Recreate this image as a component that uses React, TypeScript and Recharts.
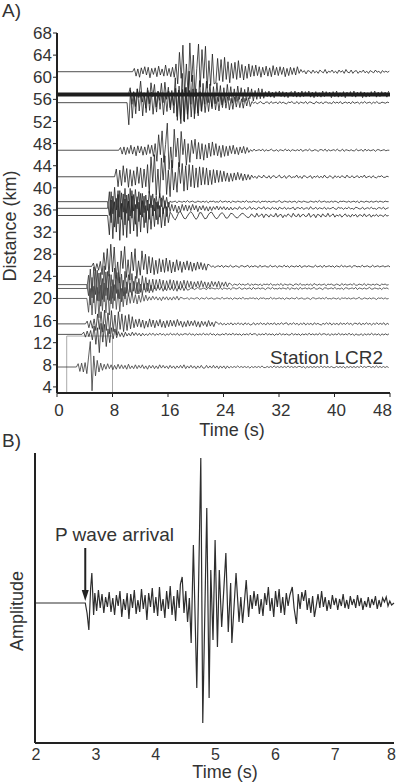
import React from "react";
import {
  LineChart,
  Line,
  XAxis,
  YAxis,
  ReferenceLine,
  ReferenceArea,
  ReferenceDot,
} from "recharts";

const FONT = '"Liberation Sans", Arial, Helvetica, sans-serif';
const INK = "#333";
const FRAME = "#222";

// ---------- Panel A: record section ----------
const distTicks = [4, 8, 12, 16, 20, 24, 28, 32, 36, 40, 44, 48, 52, 56, 60, 64, 68];
const timeTicksA = [0, 8, 16, 24, 32, 40, 48];
const sampleStep = 0.25; // s between amplitude samples

const traceDistances = [61.0, 56.9, 55.4, 46.8, 42.0, 37.5, 36.3, 35.0, 25.8, 22.5, 21.8, 20.0, 15.4, 13.5, 7.6];
const traceOnsets = [10.9, 10.3, 10.1, 8.9, 8.3, 7.3, 7.3, 7.3, 5.0, 4.3, 4.3, 4.3, 4.1, 3.6, 2.8];

// amplitudes in 0.1 km, sampled every sampleStep seconds from the onset
const amp610 = [
  0, 6, -8, 5, -10, 7, -4, 9, -6, 8, -11, 6, -5, 7, -9, 10, -6, 5, -8, 12, -7, 6, -9, 8, -10, 14,
  -22, 35, -12, 48, -38, 14, -42, 52, -18, 30, -45, 6, 50, -28, 40, -12, 46, -30, 20, -25, 32, -22,
  -20, 24, -16, 22, -18, 26, -14, 18, -20, 15, -12, 17, -14, 20, -11, 13, -15, 10, -12, 14,
  -9, 11, -8, 12, -7, 9, -10, 8, -6, 10, -8, 7, -9, 11, -6, 8, -7, 9, -5, 8, -9, 6, -7, 8, -5, 7, -6, 9,
  -3, 4, -1, 2, -4, 2, 1, -3, 3, -2, 1, -3, 3, 0, -2, 4, -3, 1, -1, 3,
  -2, 1, -3, 3, -1, 2, -3, 4, -1, -2, 3, -3, 1, 2, -3, 1, -1, 3, -2, 1,
  -3, 2, 0, -2, 3, -1, 1, -3, 2, -1, 1, -1, 1, 0, 0,
];
const amp569 = [
  0, 12, -18, 5, -22, 10, -6, 24, -14, 3, -25, 12, -17, 21, -4, 18, -23, 6, -11, 20, -15, 22, -9, 13, -24, 7, -20,
  30, -40, 8, -45, 38, -48, 12, -36, 42, -18, 35, -44, 10, -34, 25, -30,
  20, -18, 24, -15, 19, -22, 14, -17, 21, -13, 16, -19, 12, -15, 18, -11, 14, -16, 10, -13, 15, -9, 12, -14, 9, -11, 13, -8, 10, -12, 7, -9, 11, -8, 10, -7,
  5, -4, 6, -5, 4, -6, 5, -3, 6, -4, 5, -5, 4, -6, 3, 5, -4, 6, -5, 4,
  -5, 6, -4, 5, -3, 6, -5, 4, -6, 5, -4, 3, -5, 6, -4, 5, -3, 4, -6, 5,
  -4, 6, -5, 3, -4, 5, -6, 4, -3, 5, -4, 6, -5, 4, -3, 5, -6, 4, -5, 3,
  -4, 5, -3, 6, -5, 4, -4, 5, -3, 4, -5, 6, -4, 3, 0,
];
const amp554 = [
  0, -40, 22, -28, 18, -20, 25, -15, 20, -24, 16, -18, 22, -14, 19, -21, 13, -17, 20, -12, 18, -22, 15, -16, 21, -13, 17, -19,
  26, -32, 30, -38, 24, -35, 28, -30, 22, -26, 25, -20, 18, -24, 20, -16,
  15, -18, 12, -16, 14, -11, 17, -13, 10, -15, 12, -9, 14, -10, 11, -13, 8, -12, 10, -8, 11, -9, 7, -10, 8, -6, 9, -7,
  2, -1, 1, -2, 0, 2, -1, -2, 1, 1, -2, 2, -1, 0, 1, -2, 2, -1, 1, -1,
  -2, 1, 0, 2, -1, -1, 2, -2, 1, 0, -1, 2, -2, 1, 1, -1, -2, 2, 0, -1,
  1, -2, 1, 1, -1, 0, -2, 2, -1, 1, -1, 2, -2, 0, 1, -1, 1, -2, 2, -1,
  0, 1, -2, 1, -1, 2, -1, 0, 1, -2, 1, -1, 2, -1, -1, 1, 0, -1, 1, 0, 1, 0,
];
const amp468 = [
  0, 5, -7, 6, -8, 5, -6, 9, -7, 6, -10, 8, -5, 7, -9, 6, -8, 10, -6, 9, -11, 12,
  -20, 28, -8, 35, -22, 10, 49, -35, 6, -32, 38, -12, 22, -30, 34, -8, 20, -27, 12, -22, 18, -6, 20, -16,
  14, -16, 12, -18, 10, -14, 13, -11, 15, -9, 12, -10, 8, -13, 9, -11, 7, -10, 8, -6, 9, -7, 5, -8, 6, -5, 7, -6, 5, -4,
  1, -2, 2, -1, 0, 1, -1, 2, -2, 1, -1, 0, 2, -1, -1, 1, -2, 1, 0, -1,
  2, -1, 1, -2, 1, 0, -1, 1, -1, 2, -2, 0, 1, -1, 2, -1, -1, 1, 0, -2,
  1, 1, -1, 2, -2, 1, -1, 0, 1, -1, 2, -1, -1, 2, -2, 1, 0, -1, 1, -1,
  -1, 2, -1, 0, 1, -2, 2, -1, 1, -1, 0, 1, -2, 1, 1, -1, 0, 1, -1, 0, 0, 0,
];
const amp420 = [
  0, 14, -18, 12, -16, 20, -10, 15, -19, 13, -17, 11, -15, 18, -12, 16, -20, 14, -18, 22,
  -30, 36, -10, 40, -34, 14, -38, 34, -6, 38, -32, 12, -36, 30, -24, 8, -28, 26, -12,
  24, -26, 20, -24, 22, -18, 21, -20, 16, -19, 18, -15, 17, -14, 16, -15, 12, -14, 13, -11, 12, -10, 11, -9, 10, -8,
  7, -9, 6, -8, 7, -6, 8, -5, 6, -7, 5, -6, 4, -5,
  3, -2, 1, -3, 2, 0, -2, 3, -1, -2, 2, -3, 1, 2, -2, 0, 3, -2, -1, 2,
  -3, 1, 2, -2, 0, -1, 3, -2, 1, -3, 2, 1, -2, 0, 2, -3, 1, -1, 2, -2,
  1, -2, 3, -1, -2, 2, 0, -3, 2, -1, 1, -2, 2, 0, -2, 3, -1, -1, 2, -2,
  0, 2, -2, 1, -1, 3, -2, 0, 1, -2, 2, -1, -2, 1, 0, 2, -1, -1, 1, 0, 0,
];
const amp375 = [
  0, -25, 18, -22, 26, -15, 20, -28, 16, -19, 24, -21, 14, -26, 20, -17, 22, -13, 18, -24, 15, -20, 12, -16, 19, -11, 14, -17, 10, -13, 15, -9, 11, -12, 8, -10,
  1, -1, 0, 1, -2, 1, 0, -1, 1, -1, 2, -1, 0, 1, -1, -1, 1, 0, -1, 1,
  -1, 1, -2, 1, 0, 1, -1, 0, -1, 2, -1, 0, 1, -1, 1, -2, 1, 0, -1, 1,
  0, -1, 1, -1, 2, -1, 0, -1, 1, 0, -1, 1, -2, 1, 0, 1, -1, 1, -1, 0,
  1, -1, 0, 2, -1, -1, 1, 0, -1, 1, -1, 0, 1, -2, 1, 0, -1, 1, 0, -1,
  -1, 1, 0, -1, 1, -1, 2, -1, 0, 1, -1, 0, -1, 1, -1, 1, 0, -2, 1, 0,
  1, 0, -1, 1, -1, 0, 1, -1, 1, -2, 1, 0, -1, 1, 0, -1, 1, -1, 0, 1,
  -1, 1, 0, -1, 1, 0, 0, 0, 0,
];
const amp363 = [
  0, 30, -26, 22, -34, 18, -28, 32, -20, 26, -30, 24, -22, 36, -18, 25, -29, 21, -24, 27, -16, 22, -26, 15, -20, 23, -14, 18, -21, 12, -16, 19, -10, 14, -15, 11,
  -6, 7, -5, 6, -8, 4, -6, 7, -4, 6, -5, 5, -4, 7, -3, 5, -6, 4, -3, 5, -4, 3, -5, 3, -4, 3, -2, 4, -3, 3, -2, 3, -3, 2, -3,
  2, -3, 1, 0, -2, 3, -1, -1, 2, -2, 0, 3, -2, 1, -1, -2, 2, 0, -1, 3,
  -2, 1, 0, -2, 2, -1, 1, -3, 2, 0, -1, 2, -2, 1, -1, 0, 2, -3, 1, 1,
  -1, 2, -2, 0, 1, -2, 3, -1, -1, 2, -2, 1, 0, -1, 2, -2, 1, -1, 0, 2,
  -1, -2, 2, 0, 1, -2, 1, -1, 2, -1, 0, -2, 2, 1, -1, -1, 2, -2, 0, 1,
  -1, 2, -1, 0, -2, 1, 1, -1, 2, -2, 0, 1, 0,
];
const amp350 = [
  0, -35, 28, -42, 25, -30, 38, -45, 22, -36, 30, -40, 26, -33, 35, -28, 20, -38, 24, -30, 27, -22, 18, -32, 21, -25, 19, -20, 24, -16, 18, -22, 14, -19, 16, -13,
  6, 2, -5, -8, -2, 6, 7, 1, -5, -6, -1, 4, 7, 3, -3, -7, -3, 5, 5, -1, -6, -5, 1, 5, 6, 1, -4, -6, -2, 3, 5, 2, -4, -5, -1, 4, 3, 0, -4, -4, -1, 3, 4, 1, -2, -4, -2,
  3, -1, -3, 4, -2, 0, 3, -4, 2, 1, -3, 2, -1, -2, 4, -3, 1, 2, -4, 1,
  -2, 3, 0, -3, 4, -1, -2, 3, -3, 1, 2, -2, -1, 4, -3, 0, 2, -4, 2, 1,
  -3, 3, -1, -2, 4, -2, 0, 3, -3, 1, -1, 2, -3, 0, 3, -2, 1, -3, 2, -1,
  2, -3, 1, 1, -2, 3, -2, 0, 2, -3, 1, -1, 2, -2, 1, 0, -2, 2, -1, 0, 0,
];
const amp258 = [
  0, 6, -8, 5, -7, 9,
  -15, 25, -6, 32, -18, 40, -10, 35, -22, 8, -30, 28, -4, 36, -20, 12, -25, 26, -8, 32, -22, 10, -16, 28, -6, 22,
  -14, 18, -12, 16, -15, 11, -13, 14, -10, 12, -11, 15, -9, 11, -12, 8, -10, 12, -7, 9, -11, 8, -6, 10, -7, 8, -9, 6, -7, 8, -5, 7, -6, 5, -7, 4,
  2, -1, 1, -2, 0, 1, -1, 2, -2, 1, 0, -1, 2, -1, -1, 1, 0, -2, 1, 1,
  -1, 0, 2, -2, 1, -1, 1, 0, -2, 2, -1, 0, 1, -1, -1, 2, -1, 0, 1, -2,
  1, 0, -1, 2, -1, 1, -2, 1, 0, -1, 1, -1, 2, -2, 0, 1, -1, 1, 0, -1,
  -1, 2, -1, 0, 1, -2, 2, -1, 0, 1, -1, 1, -2, 1, 0, -1, 2, -1, 1, -1,
  0, 1, -2, 1, 1, -1, 0, -1, 2, -1, 0, 1, -1, -1, 2, -1, 0, 1, -1, 0,
  1, -1, 0, 1, -1, 0, 0,
];
const amp225 = [
  0, -20, 28, -24, 32, -18, 26, -30, 22, -27, 34, -20, 24, -29, 18, -25, 30, -16, 22, -26, 19, -21, 24,
  -16, 18, -14, 20, -12, 15, -17, 11, -14, 16, -10, 13, -12, 9, -11, 10,
  -8, 9, -7, 10, -6, 8, -9, 7, -5, 9, -7, 8, -6, 7, -8, 6, -5, 8, -6, 7, -5, 6, -7, 5, -4, 6, -5, 7, -4, 5, -6, 4, -5, 6, -3, 5, -4, 6, -5, 4, -3, 5, -4, 3,
  1, -2, 1, 0, -1, 2, -1, 1, -1, 0, 2, -2, 1, -1, 1, 0, -1, 1, -2, 1,
  0, 1, -1, 2, -1, 0, -1, 1, -1, 2, -2, 1, 0, -1, 1, 0, -2, 1, 1, -1,
  2, -1, 0, -1, 1, -1, 1, -2, 2, 0, -1, 1, -1, 0, 1, -2, 1, 0, 1, -1,
  -1, 1, 0, -2, 2, -1, 1, -1, 0, 1, -1, 2, -1, -1, 1, 0, -1, 2, -2, 1,
  0, -1, 1, -1, 1, 0, -2, 1, 0, 1, -1, 0, 0,
];
const amp218 = [
  0, 24, -30, 20, -26, 35, -22, 28, -32, 18, -24, 30, -20, 26, -28, 16, -22, 25, -18, 20, -24, 15, -19,
  12, -14, 10, -12, 13, -9, 11, -10, 8, -11, 9, -7, 10, -8, 6, -7,
  5, -4, 6, -3, 4, -5, 3, -4, 5, -3, 4, -4, 3, -5, 4, -3, 5, -4, 3, -3,
  -2, 1, 1, -2, 0, 2, -1, -1, 1, 0, -2, 2, -1, 1, 0, -1, 1, -1, 2, -2,
  1, 0, -1, 1, -2, 1, 1, -1, 0, 2, -1, -1, 1, -1, 0, 1, -2, 2, -1, 0,
  1, -1, 1, 0, -2, 1, 1, -1, 2, -1, 0, -1, 1, -1, 1, 0, -1, 2, -2, 1,
  0, -1, 1, -2, 2, -1, 0, 1, -1, 1, -1, 0, 2, -1, -1, 1, 0, -2, 1, 1,
  -1, 0, 1, -1, 2, -1, 0, -1, 1, -2, 1, 1, -1, 0, 1, -1, 2, -2, 1, 0,
  -1, 1, -1, 0, 2, -1, -1, 1, 0, -1, 1, -2, 1, 0, 1, -1, 0,
];
const amp200 = [
  0, -25, 18, -30, 22, -28, 20, -35, 24, -22, 28, -26, 19, -30, 22, -18, 25, -20, 16, -24, 18, -15, 20,
  -12, 10, -9, 11, -8, 7, -10, 6, -7, 8, -5, 6,
  -4, 3, -3, 4, -2, 3, -3, 2, -4, 3, -2, 3, -3, 2, -3, 3, -2, 4, -3, 2,
  1, -1, 0, 1, -2, 1, 0, -1, 1, 1, -2, 1, 0, -1, 2, -1, 0, 1, -1, -1,
  1, 0, -1, 2, -1, 0, 1, -1, 1, -2, 1, 0, -1, 1, -1, 2, -1, 0, -1, 1,
  0, 1, -1, 1, -2, 1, 0, 1, -1, 0, -1, 2, -1, 1, -1, 0, 1, -1, 1, -2,
  1, 0, -1, 1, 0, -1, 2, -1, 0, 1, -1, -1, 1, 0, -2, 1, 1, -1, 0, 1,
  -1, 1, -1, 2, -1, 0, -1, 1, 0, -1, 1, -2, 1, 0, 1, -1, 1, -1, 0, 1,
  -1, 0, 2, -1, -1, 1, 0, -1, 1, -1, 1, 0, -2, 1, 0, 1, -1, 1, -1, 0,
  1, 0,
];
const amp154 = [
  0, 5, -7, 6, -8, 9,
  -12, 18, -10, 22, -15, 25, -12, 20, -18, 24, -14, 16, -20, 22, -10, 18, -14, 15, -12, 17, -9, 13,
  -7, 8, -5, 9, -6, 7, -8, 5, -6, 9, -5, 7, -7, 6, -4, 8, -6, 5, -7, 6, -5, 7, -4, 6, -5, 8, -3, 5, -6, 4, -5, 6, -4, 5, -3, 6, -5, 4, -6, 5, -3, 4, -5, 6, -4, 3, -5, 4,
  2, -1, 2, -2, 1, -2, 1, -1, 2, -2, 1, -1, 2, -1, 1, -2, 2, -1, 1, -2,
  -1, 2, -2, 1, -1, 2, -1, 1, -2, 2, -1, 1, -1, 2, -2, 1, -1, 2, -1, 1,
  2, -2, 1, -1, 2, -1, 1, -2, 1, -1, 2, -2, 1, -1, 1, -2, 2, -1, 1, -1,
  -2, 1, -1, 2, -1, 2, -2, 1, -1, 1, -2, 2, -1, 1, -1, 2, -1, 1, -2, 1,
  1, -1, 2, -2, 1, -1, 2, -1, 1, -2, 1, -1, 2, -1, 1, -1, 2, -2, 1, -1, 0,
];
const amp135 = [
  0, 4, -5, 6, -4, 7,
  -10, 15, -18, 12, -33, 20, -14, 18, -22, 10, -15, 12, -8, 10,
  -6, 5, -4, 3, -5, 4, -3, 2, -3, 4, -2, 3, -2, 2, -3, 2, -2, 1, -2, 2,
  -1, 2, -2, 1, -1, 2, -1, 1, -2, 1, -1, 2, -1, 1, -1, 2, -2, 1, -1, 1,
  1, -1, 2, -1, 1, -2, 1, -1, 1, -1, 2, -1, 1, -1, 2, -1, 1, -2, 1, -1,
  -1, 1, -1, 2, -1, 1, -1, 2, -1, 1, -1, 1, -2, 1, -1, 1, -1, 2, -1, 1,
  1, -2, 1, -1, 1, -1, 2, -1, 1, -1, 1, -2, 1, -1, 2, -1, 1, -1, 1, -1,
  -1, 2, -1, 1, -1, 1, -2, 1, -1, 1, -1, 2, -1, 1, -1, 1, -1, 2, -1, 1,
  1, -1, 1, -2, 1, -1, 1, -1, 2, -1, 1, -1, 1, -1, 2, -1, 1, -2, 1, -1,
  -1, 1, -2, 1, -1, 1, -1, 2, -1, 1, -1, 1, -2, 1, -1, 1, -1, 1, -1, 0,
];
const amp076 = [
  0, 6, -8, 7, -9, 8,
  -12, 18, 46, -43, 20, -16, 12, -9,
  7, -6, 5, -4, 6, -3, 4, -5, 3, -4, 5, -3, 4, -3, 3, -4, 5, -3, 2, -3,
  4, -3, 3, -2, 4, -3, 2, -4, 3, -2, 3, -3, 2, -3, 4, -2, 3, -2, 2, -3,
  3, -2, 2, -3, 2, -2, 3, -2, 4, -3, 2, -2, 3, -2, 2, -3, 2, -2, 3, -2,
  -2, 3, -2, 2, -2, 3, -2, 2, -3, 2, -2, 2, -3, 2, -2,
  1, -1, 1, -1, 2, -1, 1, -1, 1, -1, 1, -2, 1, -1, 1, -1, 1, -1, 2, -1,
  -1, 1, -1, 1, -1, 2, -1, 1, -1, 1, -1, 1, -1, 2, -1, 1, -1, 1, -1, 1,
  1, -1, 1, -2, 1, -1, 1, -1, 1, -1, 1, -1, 2, -1, 1, -1, 1, -1, 1, -1,
  -1, 1, -1, 1, -1, 1, -2, 1, -1, 1, -1, 1, -1, 1, -1, 2, -1, 1, -1, 1,
  1, -1, 1, -1, 2, -1, 1, -1, 1, -1, 1, -1, 0,
];
const traceAmps = [amp610, amp569, amp554, amp468, amp420, amp375, amp363, amp350, amp258, amp225, amp218, amp200, amp154, amp135, amp076];
const traceColors = ["#222", "#1e1e1e", "#222", "#262626", "#222", "#262626", "#2a2a2a", "#1e1e1e", "#222", "#333", "#3a3a3a", "#444", "#2a2a2a", "#2a2a2a", "#3a3a3a"];

// window shown in panel B
const insetWindow = { t0: 1.4, t1: 8, d0: 2.9, d1: 13.2 };

const traceSeries = traceDistances.map((d, k) => {
  const pts = [{ t: 0, v: d }];
  traceAmps[k].forEach((a, i) => {
    const t = traceOnsets[k] + i * sampleStep;
    if (t <= 48) pts.push({ t: Math.round(t * 100) / 100, v: d + a / 10 });
  });
  return pts;
});

// ---------- Panel B: single trace ----------
const timeTicksB = [2, 3, 4, 5, 6, 7, 8];
const pArrival = 2.84;
const waveB: [number, number][] = [
  [2.0, 0], [2.84, 0], [2.87, -1.0], [2.9, -2.7], [2.93, 1.5], [2.95, 3.0], [2.98, -1.2], [3.0, 1.0],
  [3.03, -0.8], [3.06, 1.3], [3.09, -0.5], [3.12, 0.9], [3.15, -1.0], [3.18, 0.6], [3.21, -0.4], [3.24, 1.1],
  [3.27, -0.9], [3.3, 0.5], [3.33, -1.2], [3.36, 0.8], [3.39, -0.3], [3.42, 1.2], [3.45, -1.4], [3.48, 0.4],
  [3.51, -0.7], [3.54, 1.0], [3.57, -1.6], [3.6, 0.9], [3.63, -0.5], [3.66, 1.3], [3.69, -1.1], [3.72, 0.3],
  [3.75, -0.9], [3.78, 1.4], [3.81, -0.6], [3.84, 0.8], [3.87, -1.7], [3.9, 1.0], [3.93, -0.4], [3.96, 1.5],
  [3.99, -1.0], [4.02, 0.6], [4.05, -1.3], [4.08, 1.6], [4.11, -0.8], [4.14, 0.4], [4.17, -1.5], [4.2, 1.2],
  [4.23, -0.6], [4.26, 1.7], [4.29, -1.2], [4.32, 0.7], [4.35, -1.8], [4.38, 1.3], [4.41, -0.5], [4.43, 1.9],
  [4.46, 2.6], [4.49, -1.0], [4.52, 1.2], [4.55, -1.9], [4.58, 0.5], [4.61, -4.0], [4.647, 5.8], [4.704, -8.5],
  [4.771, 14.5], [4.804, -12.0], [4.871, 9.5], [4.91, -9.5], [4.938, 3.3], [4.975, -3.7], [5.01, 6.3], [5.049, -4.4],
  [5.08, 3.3], [5.12, -2.4], [5.19, 5.0], [5.23, -2.9], [5.27, 2.0], [5.29, -4.0], [5.36, 3.0], [5.41, -1.9],
  [5.44, 0.6], [5.47, -2.0], [5.53, 2.3], [5.57, -1.4], [5.6, 0.8], [5.63, -0.6], [5.66, 1.2], [5.69, -0.3],
  [5.72, 0.9], [5.75, -1.1], [5.78, 0.4], [5.81, -1.3], [5.84, 1.0], [5.87, -0.2], [5.9, 1.6], [5.93, -0.8],
  [5.96, 0.5], [5.99, -1.4], [6.02, 1.2], [6.05, -0.4], [6.08, 1.4], [6.11, -1.0], [6.14, 0.6], [6.17, -1.2],
  [6.2, 1.0], [6.23, -0.3], [6.26, 0.8], [6.3, 1.6], [6.33, -0.5], [6.37, -2.1], [6.4, 0.9], [6.43, -0.6],
  [6.46, 1.1], [6.49, 0.2], [6.52, 1.3], [6.55, -0.7], [6.58, 0.5], [6.61, -1.0], [6.64, 0.7], [6.67, -1.4],
  [6.7, -0.3], [6.73, 0.9], [6.76, -0.5], [6.79, 1.2], [6.82, -0.4], [6.85, 0.6], [6.88, -0.8], [6.91, 0.3],
  [6.94, -0.6], [6.97, 0.8], [7.0, -0.2], [7.03, 0.5], [7.06, -0.7], [7.09, 0.4], [7.12, -0.3], [7.15, 0.9],
  [7.18, -0.5], [7.21, 0.3], [7.24, -0.6], [7.27, 0.7], [7.3, -0.2], [7.33, 0.4], [7.36, -0.5], [7.39, 0.8],
  [7.42, -0.3], [7.45, 0.5], [7.48, -0.7], [7.51, 0.2], [7.54, -0.4], [7.57, 0.6], [7.6, -0.5], [7.63, 0.4],
  [7.66, -0.2], [7.69, 0.7], [7.72, -0.6], [7.75, 0.3], [7.78, -0.4], [7.81, 0.5], [7.84, 0.1], [7.87, 0.6],
  [7.9, -0.3], [7.93, 0.2], [7.96, -0.2], [8.0, 0],
];
const waveBData = waveB.map(([t, a]) => ({ t, a }));

const frameLine = { stroke: FRAME, strokeWidth: 2 };

const TimeTickA = (props: any) => {
  const { x, y, payload } = props;
  const last = payload.value === timeTicksA[timeTicksA.length - 1];
  return (
    <text x={x + 2} y={y} dy="0.71em" textAnchor={last ? "end" : "middle"} fontSize={17} fontFamily={FONT} fill={INK}>
      {payload.value}
    </text>
  );
};

const TimeTickB = (props: any) => {
  const { x, y, payload } = props;
  const last = payload.value === timeTicksB[timeTicksB.length - 1];
  return (
    <text x={last ? x + 2 : x + 1} y={y} dy="0.71em" textAnchor={last ? "end" : "middle"} fontSize={16} fontFamily={FONT} fill={INK}>
      {payload.value}
    </text>
  );
};

const ArrowHead = (props: any) => {
  const { cx, cy } = props;
  return <path d={`M${cx - 3.5},${cy - 11} L${cx + 3.5},${cy - 11} L${cx},${cy} Z`} fill={FRAME} />;
};

function RecordSection() {
  return (
    <LineChart width={396} height={440} margin={{ top: 33, right: 6, bottom: 0, left: 0 }}>
      <XAxis
        type="number"
        dataKey="t"
        domain={[0, 48]}
        ticks={timeTicksA}
        interval={0}
        allowDataOverflow
        height={47}
        tickSize={4}
        tickMargin={7}
        axisLine={frameLine}
        tickLine={{ stroke: FRAME }}
        tick={<TimeTickA />}
      />
      <XAxis
        xAxisId="top"
        orientation="top"
        type="number"
        domain={[0, 48]}
        ticks={timeTicksA}
        interval={0}
        height={0}
        mirror
        tick={false}
        tickSize={4}
        axisLine={frameLine}
        tickLine={{ stroke: FRAME }}
      />
      <YAxis
        type="number"
        domain={[2.9, 68]}
        ticks={distTicks}
        interval={0}
        allowDataOverflow
        width={57}
        tickSize={4}
        tickMargin={1}
        axisLine={frameLine}
        tickLine={{ stroke: FRAME }}
        tick={{ fontSize: 17, fill: INK, fontFamily: FONT }}
      />
      <YAxis
        yAxisId="right"
        orientation="right"
        type="number"
        domain={[2.9, 68]}
        ticks={distTicks}
        interval={0}
        width={0}
        mirror
        tick={false}
        tickSize={4}
        axisLine={frameLine}
        tickLine={{ stroke: FRAME }}
      />
      <ReferenceArea
        x1={insetWindow.t0}
        x2={insetWindow.t1}
        y1={insetWindow.d0}
        y2={insetWindow.d1}
        fill="none"
        stroke="#aaa"
        strokeWidth={1}
      />
      <ReferenceLine y={traceDistances[1]} stroke="#1e1e1e" strokeWidth={4} />
      {traceSeries.map((pts, k) => (
        <Line
          key={k}
          data={pts}
          dataKey="v"
          type="linear"
          dot={false}
          stroke={traceColors[k]}
          strokeWidth={0.8}
          isAnimationActive={false}
        />
      ))}
    </LineChart>
  );
}

function SingleTrace() {
  return (
    <LineChart width={396} height={342} data={waveBData} margin={{ top: 13, right: 2, bottom: 0, left: 0 }}>
      <XAxis
        type="number"
        dataKey="t"
        domain={[2, 8]}
        ticks={timeTicksB}
        interval={0}
        height={39}
        tickLine={false}
        tickSize={4}
        tickMargin={2}
        axisLine={frameLine}
        tick={<TimeTickB />}
      />
      <XAxis
        xAxisId="top"
        orientation="top"
        type="number"
        domain={[2, 8]}
        height={0}
        tick={false}
        tickLine={false}
        axisLine={frameLine}
      />
      <YAxis type="number" domain={[-14, 15]} width={35} tick={false} tickLine={false} axisLine={frameLine} />
      <YAxis
        yAxisId="right"
        orientation="right"
        type="number"
        domain={[-14, 15]}
        width={0}
        tick={false}
        tickLine={false}
        axisLine={frameLine}
      />
      <Line dataKey="a" type="linear" dot={false} stroke="#2e2e2e" strokeWidth={1.2} isAnimationActive={false} />
      <ReferenceLine
        segment={[
          { x: pArrival, y: 5.5 },
          { x: pArrival, y: 1.2 },
        ]}
        stroke={FRAME}
        strokeWidth={2}
      />
      <ReferenceDot x={pArrival} y={0.2} shape={<ArrowHead />} />
    </LineChart>
  );
}

export default function App() {
  const txt = { fontFamily: FONT, fill: INK };
  return (
    <div style={{ position: "absolute", left: 0, top: 0, width: 396, height: 782, background: "#fff" }}>
      <div style={{ position: "absolute", left: 0, top: 0 }}>
        <RecordSection />
      </div>
      <div style={{ position: "absolute", left: 0, top: 440 }}>
        <SingleTrace />
      </div>
      <svg width={396} height={782} style={{ position: "absolute", left: 0, top: 0, pointerEvents: "none" }}>
        <text x={2} y={17} fontSize={19} {...txt}>A)</text>
        <text x={2} y={447} fontSize={19} {...txt}>B)</text>
        <text x={15.5} y={226} fontSize={18} textAnchor="middle" transform="rotate(-90 15.5 226)" {...txt}>
          Distance (km)
        </text>
        <text x={232} y={436} fontSize={18} textAnchor="middle" {...txt}>Time (s)</text>
        <text x={383} y={364} fontSize={19} textAnchor="end" {...txt}>Station LCR2</text>
        <text x={55} y={541} fontSize={19} {...txt}>P wave arrival</text>
        <text x={22.5} y={611} fontSize={18} textAnchor="middle" transform="rotate(-90 22.5 611)" {...txt}>
          Amplitude
        </text>
        <text x={225} y={778} fontSize={18} textAnchor="middle" {...txt}>Time (s)</text>
      </svg>
    </div>
  );
}
